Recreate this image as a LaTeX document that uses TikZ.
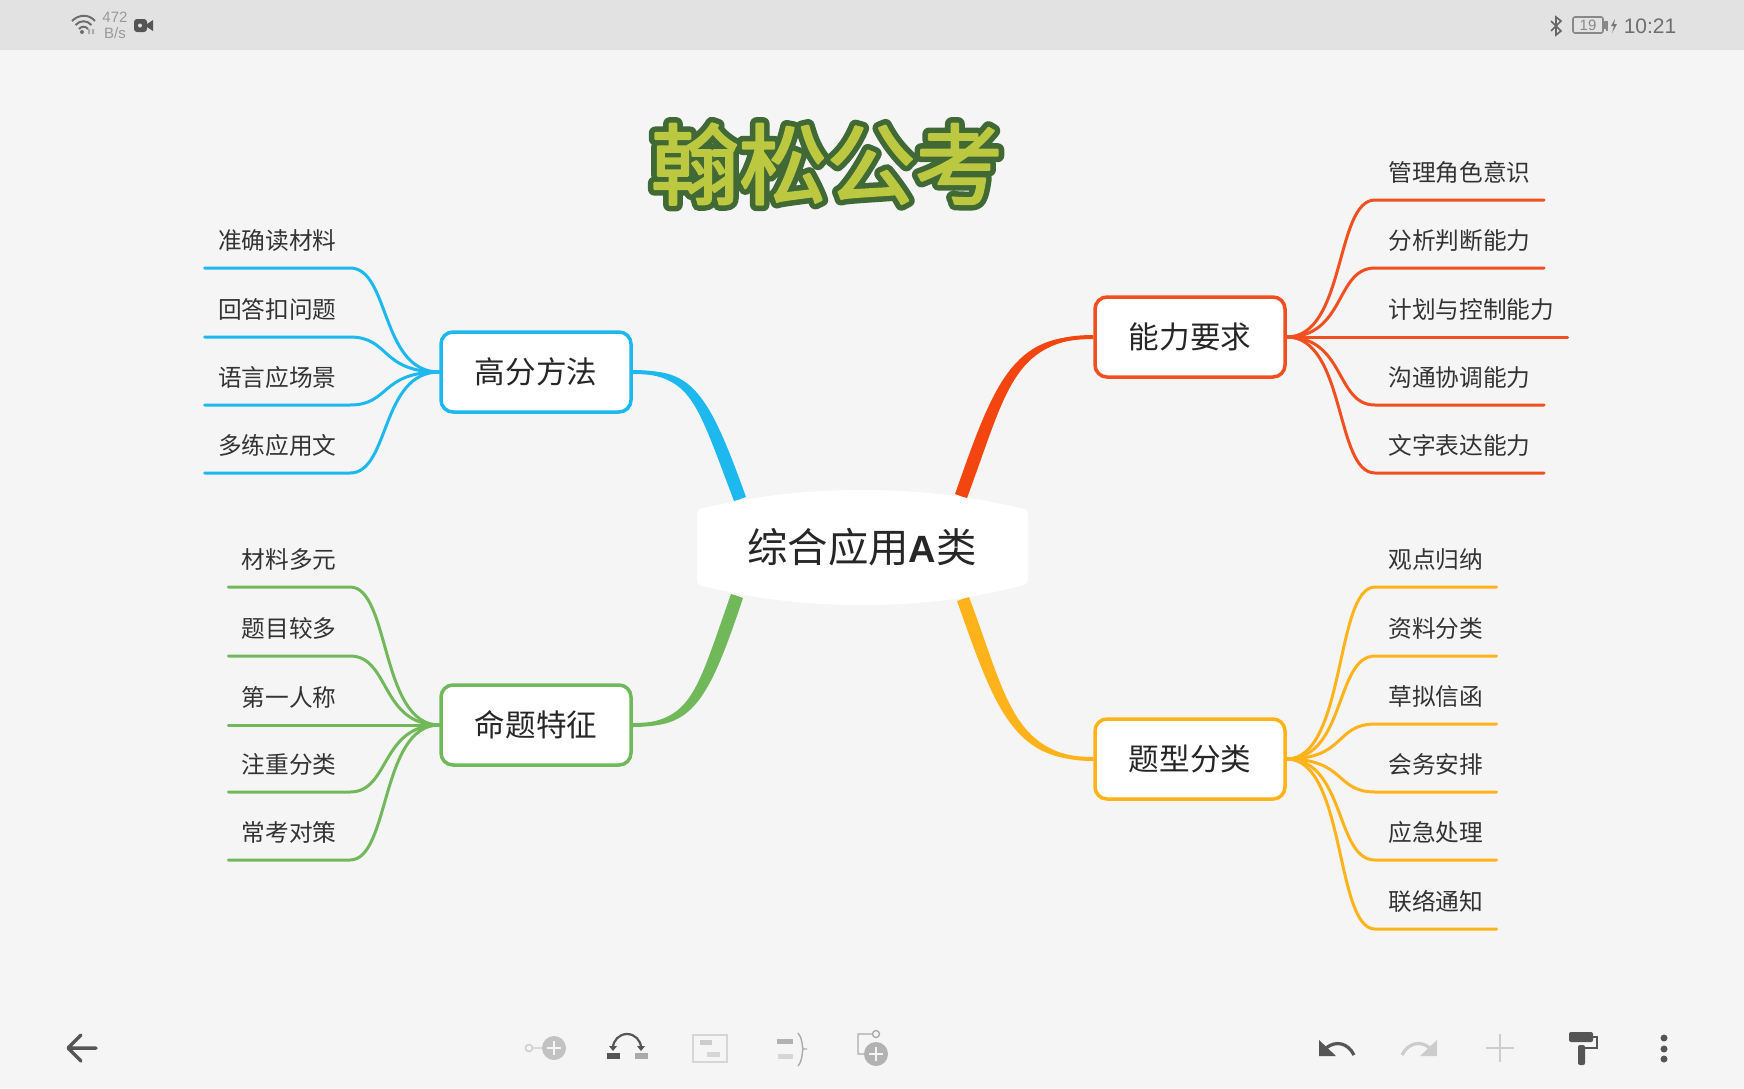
\documentclass[tikz,border=0pt]{standalone}
\usepackage{fontspec}
\setmainfont{Noto Sans CJK SC}
\newfontfamily\latfont{Liberation Sans}
\usetikzlibrary{calc,arrows.meta}
\definecolor{bgc}{HTML}{F5F5F5}
\definecolor{barc}{HTML}{E2E2E2}
\definecolor{cblue}{HTML}{1CB8EE}
\definecolor{cred}{HTML}{F0501F}
\definecolor{credt}{HTML}{F2450F}
\definecolor{cgreen}{HTML}{70B85A}
\definecolor{corange}{HTML}{FFB31A}
\definecolor{titlefill}{HTML}{BCC840}
\definecolor{icondark}{HTML}{555555}
\definecolor{iconmid}{HTML}{AAAAAA}
\definecolor{iconlight}{HTML}{CCCCCC}
\definecolor{labeltext}{HTML}{333333}
\newcommand{\titletext}{翰松公考}
\tikzset{
  branchbox/.style={draw=#1,fill=white,line width=1.75pt,rounded corners=6pt,minimum width=95pt,minimum height=40pt,inner sep=0pt,font=\fontsize{15.3}{18}\selectfont,text=black!85},
  leaflabel/.style={minimum height=27.2pt,inner xsep=6.5pt,inner ysep=0pt,font=\fontsize{11.85}{14}\selectfont,text=labeltext},
  leafline/.style={draw=#1,line width=1.5pt,line cap=round},
  trunk/.style={draw=#1,line width=2pt},
  wedge/.style={fill=#1,draw=none},
  rootlabel/.style={minimum width=165.5pt,minimum height=57.5pt,inner sep=0pt,font=\fontsize{20.2}{24}\selectfont,text=black!85},
  statustext/.style={inner sep=0pt,font=\latfont\fontsize{#1}{#1}\selectfont},
}
\newcommand{\rleaf}[3]{\draw[leafline=#1] (#2.east) .. controls +(59,0) and ($(#3.south west)+(-40,0)$) .. (#3.south west) -- (#3.south east);}
\newcommand{\lleaf}[3]{\draw[leafline=#1] (#2.west) .. controls +(-59,0) and ($(#3.south east)+(40,0)$) .. (#3.south east) -- (#3.south west);}
\newcommand{\boxtext}[1]{\raisebox{1.8pt}{#1}}
\begin{document}
\begin{tikzpicture}[x=0.5pt,y=-0.5pt]
\useasboundingbox (0,0) rectangle (1744,1088);
\fill[bgc] (0,0) rectangle (1744,1088);
\fill[barc] (0,0) rectangle (1744,50);

% title
\node[inner sep=0pt,font=\fontsize{44}{50}\selectfont] (title) at (827,164) {\color{titlefill}\rlap{\special{pdf:code 1 Tr 1 j 1 J 6.6 w 0.25 0.41 0.21 RG}\titletext}\special{pdf:code 2 Tr 1 j 1 J 1.1 w 0.737 0.784 0.251 RG}\titletext\special{pdf:code 0 Tr 0.5 w}};

% root
\path[fill=white] (699,509) .. controls (750,497) and (800,490) .. (862,490) .. controls (924,490) and (975,497) .. (1024,509) .. controls (1027,510) and (1028,512) .. (1028,516) -- (1028,578) .. controls (1028,582) and (1027,584) .. (1024,585) .. controls (975,598) and (924,605) .. (862,605) .. controls (800,605) and (750,598) .. (699,585) .. controls (698,584) and (697,582) .. (697,578) -- (697,516) .. controls (697,512) and (698,510) .. (699,509) -- cycle;
\node[rootlabel] (root) at (862,547) {综合应用{\latfont\bfseries\fontsize{19}{24}\selectfont A}类};
\coordinate (rootb) at (740,499);
\coordinate (rootr) at (961,496);
\coordinate (rootg) at (737,596);
\coordinate (rooto) at (963,599);

% branch boxes
\node[branchbox=cblue] (gaofen) at (536,372) {\boxtext{高分方法}};
\node[branchbox=cred] (nengli) at (1190,337) {\boxtext{能力要求}};
\node[branchbox=cgreen] (mingti) at (536,725) {\boxtext{命题特征}};
\node[branchbox=corange] (tixing) at (1190,759) {\boxtext{题型分类}};

% trunks (thin line + widening wedge)
\draw[trunk=cblue] (gaofen.east) .. controls (692,372) and (702,396) .. (rootb);
\fill[wedge=cblue] (gaofen.east) .. controls (692,378) and (695,398) .. ($(rootb)+(-6,2)$) -- ($(rootb)+(6,-2)$) .. controls (709,394) and (692,366) .. (gaofen.east) -- cycle;
\draw[trunk=credt] (nengli.west) .. controls (1012,337) and (1000,388) .. (rootr);
\fill[wedge=credt] (nengli.west) .. controls (1012,343) and (1007,390) .. ($(rootr)+(6,2)$) -- ($(rootr)+(-6,-2)$) .. controls (993,386) and (1012,331) .. (nengli.west) -- cycle;
\draw[trunk=cgreen] (mingti.east) .. controls (692,725) and (702,698) .. (rootg);
\fill[wedge=cgreen] (mingti.east) .. controls (692,719) and (695,696) .. ($(rootg)+(-6,-2)$) -- ($(rootg)+(6,2)$) .. controls (709,700) and (692,731) .. (mingti.east) -- cycle;
\draw[trunk=corange] (tixing.west) .. controls (1012,759) and (1000,700) .. (rooto);
\fill[wedge=corange] (tixing.west) .. controls (1012,753) and (1007,698) .. ($(rooto)+(6,-2)$) -- ($(rooto)+(-6,2)$) .. controls (993,702) and (1012,765) .. (tixing.west) -- cycle;

% leaves: blue
\node[leaflabel,anchor=south east] (b1) at (350,268) {准确读材料};
\node[leaflabel,anchor=south east] (b2) at (350,337) {回答扣问题};
\node[leaflabel,anchor=south east] (b3) at (350,405) {语言应场景};
\node[leaflabel,anchor=south east] (b4) at (350,473) {多练应用文};
\foreach \n in {b1,b2,b3,b4} {\lleaf{cblue}{gaofen}{\n}}

% leaves: green
\node[leaflabel,anchor=south east] (g1) at (350,587) {材料多元};
\node[leaflabel,anchor=south east] (g2) at (350,656) {题目较多};
\node[leaflabel,anchor=south east] (g3) at (350,725) {第一人称};
\node[leaflabel,anchor=south east] (g4) at (350,792) {注重分类};
\node[leaflabel,anchor=south east] (g5) at (350,860) {常考对策};
\foreach \n in {g1,g2,g3,g4,g5} {\lleaf{cgreen}{mingti}{\n}}

% leaves: red
\node[leaflabel,anchor=south west] (r1) at (1375,200) {管理角色意识};
\node[leaflabel,anchor=south west] (r2) at (1375,268) {分析判断能力};
\node[leaflabel,anchor=south west] (r3) at (1375,337) {计划与控制能力};
\node[leaflabel,anchor=south west] (r4) at (1375,405) {沟通协调能力};
\node[leaflabel,anchor=south west] (r5) at (1375,473) {文字表达能力};
\foreach \n in {r1,r2,r3,r4,r5} {\rleaf{cred}{nengli}{\n}}

% leaves: orange
\node[leaflabel,anchor=south west] (o1) at (1375,587) {观点归纳};
\node[leaflabel,anchor=south west] (o2) at (1375,656) {资料分类};
\node[leaflabel,anchor=south west] (o3) at (1375,724) {草拟信函};
\node[leaflabel,anchor=south west] (o4) at (1375,792) {会务安排};
\node[leaflabel,anchor=south west] (o5) at (1375,860) {应急处理};
\node[leaflabel,anchor=south west] (o6) at (1375,929) {联络通知};
\foreach \n in {o1,o2,o3,o4,o5,o6} {\rleaf{corange}{tixing}{\n}}

% status bar left
\draw[icondark!85,line width=1pt] (72,21) .. controls (79,14) and (89,14) .. (95,21);
\draw[icondark!85,line width=1pt] (75.5,25) .. controls (80,20) and (87,20) .. (91.5,25);
\draw[icondark!85,line width=1pt] (79,29) .. controls (81,26) and (86,26) .. (88,29);
\fill[icondark!85] (82,32) circle (2);
\fill[iconmid] (88,29) rectangle (90,34) (92,29) rectangle (94,34);
\node[statustext=7.5,text=iconmid!90!black] at (115,17) {472};
\node[statustext=7.5,text=iconmid!90!black] at (115,33) {B/s};
\fill[icondark,rounded corners=1.5pt] (134,19) rectangle (147,32);
\fill[icondark] (147,24) -- (153,20) -- (153,31) -- (147,27) -- cycle;
\fill[barc] (140,25.5) circle (2);

% status bar right
\draw[icondark!90,line width=0.8pt] (1551,21) -- (1561,31) -- (1556,35) -- (1556,17) -- (1561,21) -- (1551,31);
\draw[iconmid!80!black,line width=0.8pt,rounded corners=1pt] (1573,17) rectangle (1603,33);
\fill[iconmid!80!black] (1604,21) rectangle (1606,29);
\node[statustext=7.5,text=iconmid!80!black] at (1588,25.5) {19};
\fill[icondark!80] (1615,19) -- (1611,26) -- (1614,26) -- (1612,33) -- (1617,24) -- (1614,24) -- cycle;
\fill[iconmid!80!black] (1606,21) rectangle (1608,31);
\node[statustext=10.5,text=icondark!85] at (1650,26) {10:21};

% toolbar: back
\draw[icondark,line width=1.75pt,line cap=round,line join=round] (96,1048) -- (69,1048) (81,1035) -- (68,1048) -- (81,1061);

% toolbar: add sibling
\draw[iconlight,line width=0.7pt] (529,1048) circle (3.5) (533,1048) -- (542,1048);
\fill[iconlight!95!black] (554,1048) circle (12);
\draw[bgc,line width=1pt] (547,1048) -- (561,1048) (554,1041) -- (554,1055);

% toolbar: relation
\draw[icondark,line width=1.1pt] (613,1048) arc[start angle=180,end angle=0,x radius=14,y radius=-14];
\fill[icondark] (609,1046) -- (617,1046) -- (613,1051) -- cycle;
\fill[icondark] (637,1046) -- (645,1046) -- (641,1051) -- cycle;
\fill[icondark] (607,1053) rectangle (620,1059);
\fill[iconmid] (635,1053) rectangle (648,1059);

% toolbar: summary box
\draw[iconlight!80,line width=1pt] (693,1035) rectangle (727,1062);
\fill[iconlight] (700,1040) rectangle (712,1045);
\fill[iconlight!80] (707,1052) rectangle (720,1057);

% toolbar: brace
\fill[iconmid!90] (777,1039) rectangle (793,1044);
\fill[iconlight!80] (778,1054) rectangle (793,1059);
\draw[iconmid,line width=0.7pt] (798,1033) .. controls (803,1038) and (802,1048) .. (803,1049) -- (807,1049) (803,1049) .. controls (802,1050) and (803,1060) .. (798,1066);

% toolbar: add child
\draw[iconmid,line width=0.7pt] (876,1034) circle (3.5) (872,1034) -- (858,1034) -- (858,1054) -- (866,1054);
\fill[iconmid!90] (876,1054) circle (12);
\draw[bgc,line width=1pt] (869,1054) -- (883,1054) (876,1047) -- (876,1061);

% toolbar: undo / redo
\fill[icondark] (1319,1040) -- (1319,1056) -- (1336,1056) -- cycle;
\draw[icondark,line width=1.6pt] (1326,1048) .. controls (1336,1040) and (1348,1043) .. (1354,1055);
\fill[iconlight] (1437,1040) -- (1437,1056) -- (1420,1056) -- cycle;
\draw[iconlight,line width=1.6pt] (1430,1048) .. controls (1420,1040) and (1408,1043) .. (1402,1055);

% toolbar: add
\draw[iconlight,line width=1pt] (1486,1048) -- (1514,1048) (1500,1034) -- (1500,1062);

% toolbar: roller
\fill[icondark,rounded corners=1pt] (1569,1032) rectangle (1593,1042);
\draw[icondark,line width=1pt] (1593,1037) -- (1597,1037) -- (1597,1048) -- (1581,1048);
\fill[icondark,rounded corners=1pt] (1578,1045) rectangle (1585,1065);

% toolbar: menu
\fill[icondark] (1664,1038) circle (3.5) (1664,1049) circle (3.5) (1664,1059) circle (3.5);
\end{tikzpicture}
\end{document}
